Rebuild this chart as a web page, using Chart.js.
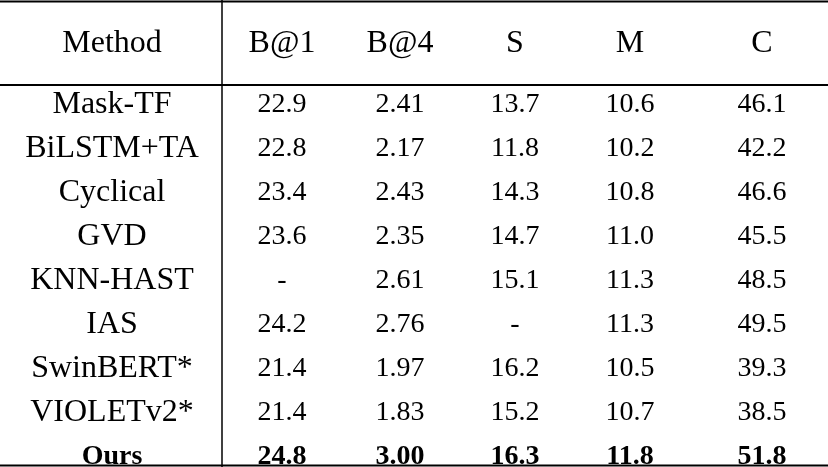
<!DOCTYPE html>
<html>
<head>
<meta charset="utf-8">
<script src="https://cdn.jsdelivr.net/npm/chart.js@4/dist/chart.umd.min.js"></script>
<style>
  body { margin: 0; background: #fff; }
  #wrap { width: 828px; height: 467px; }
</style>
</head>
<body>
<div id="wrap"><canvas id="table-chart" width="828" height="467"></canvas></div>
<script>
// table content
var headers = ['Method', 'B@1', 'B@4', 'S', 'M', 'C'];
var methods = ['Mask-TF', 'BiLSTM+TA', 'Cyclical', 'GVD', 'KNN-HAST', 'IAS', 'SwinBERT*', 'VIOLETv2*', 'Ours'];
var b1 = ['22.9', '22.8', '23.4', '23.6', '-', '24.2', '21.4', '21.4', '24.8'];
var b4 = ['2.41', '2.17', '2.43', '2.35', '2.61', '2.76', '1.97', '1.83', '3.00'];
var s  = ['13.7', '11.8', '14.3', '14.7', '15.1', '-', '16.2', '15.2', '16.3'];
var m  = ['10.6', '10.2', '10.8', '11.0', '11.3', '11.3', '10.5', '10.7', '11.8'];
var c  = ['46.1', '42.2', '46.6', '45.5', '48.5', '49.5', '39.3', '38.5', '51.8'];
var boldRow = 'Ours';

// layout (pixel units of the scales)
var colX = [112, 282, 400, 515, 630, 762];
var headerY = 43;
var firstRowY = 104;
var rowStep = 44;

var columns = [methods, b1, b4, s, m, c];

var datasets = [];
datasets.push({
    label: 'header',
    data: headers.map(function (h, i) { return { x: colX[i], y: headerY, text: h }; }),
    bold: false,
    header: true
});
methods.forEach(function (name, r) {
    datasets.push({
        label: name,
        data: columns.map(function (col, i) { return { x: colX[i], y: firstRowY + r * rowStep, text: col[r] }; }),
        bold: name === boldRow
    });
});

var cellText = {
    id: 'cellText',
    afterDatasetsDraw: function (chart) {
        var ctx = chart.ctx;
        var xs = chart.scales.x, ys = chart.scales.y;
        ctx.save();
        ctx.strokeStyle = '#000';
        ctx.lineWidth = 2;
        [1.5, 85, 465.5].forEach(function (yv) {
            ctx.beginPath();
            ctx.moveTo(xs.getPixelForValue(0), ys.getPixelForValue(yv));
            ctx.lineTo(xs.getPixelForValue(828), ys.getPixelForValue(yv));
            ctx.stroke();
        });
        ctx.lineWidth = 1.5;
        ctx.beginPath();
        ctx.moveTo(xs.getPixelForValue(222), ys.getPixelForValue(0));
        ctx.lineTo(xs.getPixelForValue(222), ys.getPixelForValue(467));
        ctx.stroke();

        ctx.fillStyle = '#000';
        ctx.textAlign = 'center';
        ctx.textBaseline = 'middle';
        chart.data.datasets.forEach(function (ds, di) {
            chart.getDatasetMeta(di).data.forEach(function (pt, i) {
                var big = (ds.header || i === 0) && !ds.bold;
                ctx.font = (ds.bold ? 'bold ' : '') + (big ? '32px' : '28px') + ' "Liberation Serif", "DejaVu Serif", serif';
                ctx.fillText(ds.data[i].text, pt.x, pt.y + 1);
            });
        });
        ctx.restore();
    }
};

new Chart(document.getElementById('table-chart').getContext('2d'), {
    type: 'scatter',
    data: { datasets: datasets },
    options: {
        responsive: false,
        animation: false,
        layout: { padding: 0 },
        elements: { point: { radius: 0, hoverRadius: 0 } },
        plugins: { legend: { display: false }, tooltip: { enabled: false } },
        scales: {
            x: { type: 'linear', min: 0, max: 828, display: false },
            y: { type: 'linear', min: 0, max: 467, reverse: true, display: false }
        }
    },
    plugins: [cellText]
});
</script>
</body>
</html>
